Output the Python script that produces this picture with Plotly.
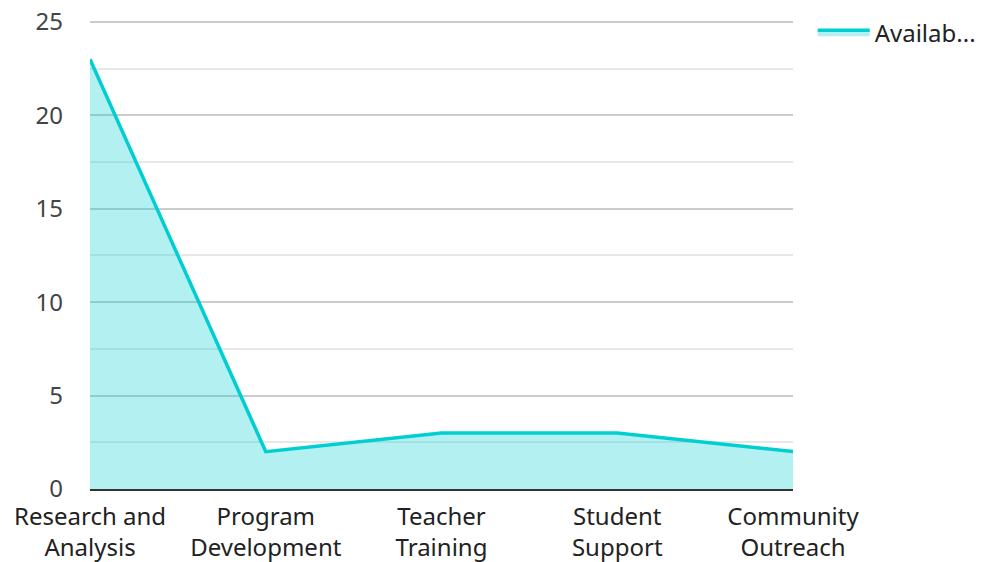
import plotly.graph_objects as go

categories = ["Research and<br>Analysis", "Program<br>Development", "Teacher<br>Training", "Student<br>Support", "Community<br>Outreach"]
values = [23, 2, 3, 3, 2]
series_name = "Availab..."

fig = go.Figure()
fig.add_trace(go.Scatter(
    x=list(range(len(categories))), y=values, name=series_name,
    mode="lines", fill="tozeroy",
    line=dict(color="#00CED1", width=3.5),
    fillcolor="rgba(0,206,209,0.3)",
))

fig.update_layout(
    width=982, height=562,
    margin=dict(l=90, r=189, t=20, b=73, autoexpand=False),
    paper_bgcolor="white", plot_bgcolor="white",
    font=dict(family="Noto Sans, Open Sans, sans-serif", size=24, color="#333333"),
    showlegend=True,
    legend=dict(x=1.028, y=0.973, xanchor="left", yanchor="middle", font=dict(size=24, color="#222222"),
                bgcolor="rgba(0,0,0,0)", itemwidth=52),
    xaxis=dict(
        range=[0, 4], tickmode="array", tickvals=list(range(len(categories))), ticktext=categories,
        showgrid=False, zeroline=False, showline=True, linecolor="#333333", linewidth=2,
        ticks="", tickfont=dict(size=24, color="#222222"), automargin=False,
        ticklabelstandoff=5,
    ),
    yaxis=dict(
        range=[0, 25.1], tickvals=[0, 5, 10, 15, 20, 25], showgrid=True, gridcolor="#cccccc", gridwidth=1.5,
        zeroline=False, showline=False, ticks="", tickfont=dict(size=24, color="#444444"),
        minor=dict(tickvals=[2.5, 7.5, 12.5, 17.5, 22.5], showgrid=True, gridcolor="#e8e8e8", gridwidth=1.5),
        ticklabelstandoff=26, automargin=False, ticklabeloverflow="allow",
    ),
)

fig.write_html("out.html", config={"displayModeBar": False},
               post_script="document.body.style.margin='0';")
